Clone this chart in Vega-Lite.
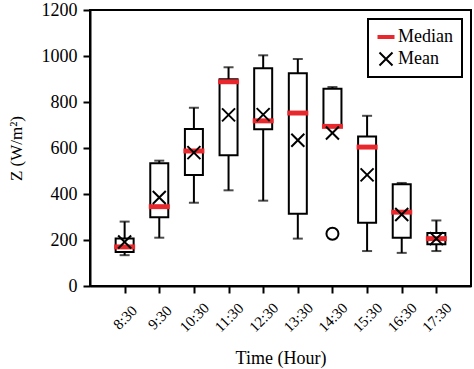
{
  "$schema": "https://vega.github.io/schema/vega-lite/v6.json",
  "autosize": "none",
  "padding": {"left": 90, "top": 10, "right": 3, "bottom": 83},
  "width": 381,
  "height": 276,
  "background": "white",
  "config": {
    "view": {"stroke": "black", "strokeWidth": 2},
    "font": "Liberation Serif",
    "axis": {
      "grid": false,
      "domainColor": "black",
      "domainWidth": 2,
      "tickColor": "black",
      "tickWidth": 2,
      "tickSize": 7,
      "labelColor": "black",
      "titleColor": "black",
      "labelFont": "Liberation Serif",
      "titleFont": "Liberation Serif",
      "titleFontWeight": "normal"
    },
    "legend": {
      "labelFont": "Liberation Serif",
      "labelFontSize": 18,
      "labelColor": "black"
    }
  },
  "datasets": {
    "boxes": [
      {"time": "8:30", "min": 134, "q1": 148, "median": 170, "q3": 206, "max": 280, "mean": 191},
      {"time": "9:30", "min": 210, "q1": 299, "median": 345, "q3": 534, "max": 545, "mean": 385},
      {"time": "10:30", "min": 362, "q1": 483, "median": 587, "q3": 683, "max": 775, "mean": 580},
      {"time": "11:30", "min": 416, "q1": 568, "median": 888, "q3": 899, "max": 951, "mean": 744},
      {"time": "12:30", "min": 371, "q1": 682, "median": 718, "q3": 947, "max": 1003, "mean": 745},
      {"time": "13:30", "min": 206, "q1": 314, "median": 752, "q3": 925, "max": 987, "mean": 634},
      {"time": "14:30", "min": 694, "q1": 694, "median": 694, "q3": 858, "max": 865, "mean": 665},
      {"time": "15:30", "min": 152, "q1": 275, "median": 604, "q3": 650, "max": 740, "mean": 483},
      {"time": "16:30", "min": 144, "q1": 210, "median": 321, "q3": 442, "max": 448, "mean": 311},
      {"time": "17:30", "min": 152, "q1": 181, "median": 206, "q3": 230, "max": 285, "mean": 206}
    ],
    "outliers": [
      {"time": "14:30", "value": 227}
    ]
  },
  "encoding": {
    "x": {
      "field": "time",
      "type": "ordinal",
      "sort": null,
      "scale": {"type": "point", "padding": 1, "domain": ["8:30","9:30","10:30","11:30","12:30","13:30","14:30","15:30","16:30","17:30"]},
      "axis": {
        "title": "Time (Hour)",
        "titleFont": "Liberation Serif",
        "titleFontSize": 18,
        "titleBaseline": "alphabetic",
        "titleY": 77,
        "labelFont": "Liberation Serif",
        "labelAngle": -45,
        "labelAlign": "center",
        "labelBaseline": "middle",
        "labelFontSize": 15,
        "labelPadding": 24,
        "labelDx": 0,
        "labelDy": 0
      }
    }
  },
  "layer": [
    {
      "data": {"name": "boxes"},
      "mark": {"type": "rule", "color": "black", "strokeWidth": 2},
      "encoding": {
        "y": {
          "field": "min",
          "type": "quantitative",
          "scale": {"domain": [0, 1200]},
          "axis": {
            "title": "Z (W/m²)",
            "titleFont": "Liberation Serif",
            "titleFontSize": 17,
            "values": [0, 200, 400, 600, 800, 1000, 1200],
            "format": "d",
            "labelFont": "Liberation Serif",
            "labelFontSize": 18,
            "labelPadding": 6,
            "titleX": -65,
            "titleY": 138,
            "titleAngle": -90,
            "titleAlign": "center",
            "titleBaseline": "bottom"
          }
        },
        "y2": {"field": "max"}
      }
    },
    {
      "data": {"name": "boxes"},
      "mark": {"type": "tick", "color": "black", "thickness": 2, "size": 10},
      "encoding": {"y": {"field": "min", "type": "quantitative"}}
    },
    {
      "data": {"name": "boxes"},
      "mark": {"type": "tick", "color": "black", "thickness": 2, "size": 10},
      "encoding": {"y": {"field": "max", "type": "quantitative"}}
    },
    {
      "data": {"name": "boxes"},
      "mark": {"type": "bar", "fill": "white", "stroke": "black", "strokeWidth": 2, "size": 18},
      "encoding": {
        "y": {"field": "q1", "type": "quantitative"},
        "y2": {"field": "q3"}
      }
    },
    {
      "data": {"name": "boxes"},
      "mark": {"type": "point", "filled": true, "strokeWidth": 0, "size": 441, "opacity": 1},
      "encoding": {
        "y": {"field": "median", "type": "quantitative"},
        "color": {
          "datum": "Median",
          "scale": {"domain": ["Median", "Mean"], "range": ["#e8282d", "black"]},
          "legend": {
            "title": null,
            "orient": "none",
            "legendX": 278,
            "legendY": 9,
            "strokeColor": "black",
            "padding": 9,
            "symbolSize": 289,
            "symbolStrokeWidth": 0,
            "symbolOpacity": 1,
            "labelOffset": 3,
            "rowPadding": 4,
            "encode": {
              "legend": {
                "update": {
                  "strokeWidth": {"value": 2}
                }
              }
            }
          }
        },
        "shape": {
          "datum": "Median",
          "scale": {"domain": ["Median", "Mean"], "range": ["M-1,-0.235L1,-0.235L1,0.235L-1,0.235Z", "M-0.682,-0.848L0.848,0.682L0.682,0.848L-0.848,-0.682ZM-0.848,0.682L0.682,-0.848L0.848,-0.682L-0.682,0.848Z"]}
        }
      }
    },
    {
      "data": {"name": "boxes"},
      "mark": {"type": "point", "filled": true, "strokeWidth": 0, "size": 289, "opacity": 1},
      "encoding": {
        "y": {"field": "mean", "type": "quantitative"},
        "color": {"datum": "Mean"},
        "shape": {"datum": "Mean"}
      }
    },
    {
      "data": {"name": "outliers"},
      "mark": {"type": "point", "shape": "circle", "filled": false, "color": "black", "strokeWidth": 2, "size": 144, "opacity": 1},
      "encoding": {
        "y": {"field": "value", "type": "quantitative"}
      }
    }
  ]
}
